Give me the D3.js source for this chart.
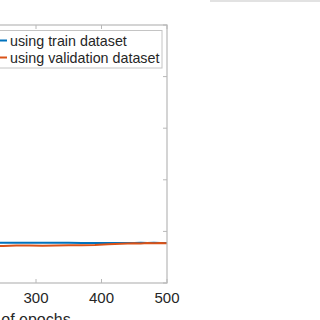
<!DOCTYPE html>
<html>
<head>
<meta charset="utf-8">
<script src="https://cdn.jsdelivr.net/npm/d3@7"></script>
<style>
  body { margin: 0; background: #fff; }
  svg { display: block; font-family: "Liberation Sans", Arial, sans-serif; }
</style>
</head>
<body>
<div id="chart"></div>
<script>
const epochs = [0, 50, 100, 150, 200, 250, 270, 290, 310, 330, 350, 370, 390, 410, 430, 450, 460, 470, 480, 490, 500];
const trainLoss = [0.157, 0.157, 0.156, 0.156, 0.156, 0.156, 0.156, 0.156, 0.156, 0.156, 0.156, 0.155, 0.155, 0.155, 0.155, 0.155, 0.156, 0.155, 0.156, 0.155, 0.155];
const validLoss = [0.142, 0.142, 0.143, 0.143, 0.143, 0.143, 0.145, 0.145, 0.144, 0.145, 0.146, 0.146, 0.147, 0.150, 0.152, 0.154, 0.153, 0.155, 0.154, 0.155, 0.154];
const xTicks = [0, 100, 200, 300, 400, 500];
const yTicks = [0, 0.2, 0.4, 0.6, 0.8, 1];
const legendLabels = ["using train dataset", "using validation dataset"];
const colors = ["#0072BD", "#D95319"];

const width = 320, height = 320;
const svg = d3.select("#chart")
    .append("svg")
    .attr("width", width)
    .attr("height", height);

// neighbouring panel edge at the top right
svg.append("rect")
    .attr("x", 210).attr("y", 0)
    .attr("width", 110).attr("height", 2)
    .attr("fill", "#e2e2e2");

const xScale = d3.scaleLinear().domain([0, 500]).range([-160.5, 167]);
const yScale = d3.scaleLinear().domain([0, 1]).range([283, 25]);

const x0 = xScale.range()[0], x1 = xScale.range()[1];
const yTop = yScale.range()[1], yBot = yScale.range()[0];

svg.append("clipPath").attr("id", "clip")
    .append("rect")
    .attr("x", x0).attr("y", yTop)
    .attr("width", x1 - x0).attr("height", yBot - yTop);

const line = d3.line()
    .x((d, i) => xScale(epochs[i]))
    .y(d => yScale(d));

[trainLoss, validLoss].forEach((series, k) => {
    svg.append("path")
        .datum(series)
        .attr("clip-path", "url(#clip)")
        .attr("fill", "none")
        .attr("stroke", colors[k])
        .attr("stroke-width", 2)
        .attr("d", line);
});

// axes box
svg.append("rect")
    .attr("x", x0).attr("y", yTop)
    .attr("width", x1 - x0).attr("height", yBot - yTop)
    .attr("fill", "none")
    .attr("stroke", "#b8b8b8")
    .attr("stroke-width", 1.2);

// ticks (MATLAB style, inside, on all sides)
const tickLen = 4;
xTicks.forEach(t => {
    const x = xScale(t);
    svg.append("line").attr("x1", x).attr("x2", x).attr("y1", yBot).attr("y2", yBot - tickLen)
        .attr("stroke", "#b8b8b8");
    svg.append("line").attr("x1", x).attr("x2", x).attr("y1", yTop).attr("y2", yTop + tickLen)
        .attr("stroke", "#b8b8b8");
    // labels left of the crop are not in the picture
    if (x < 0) return;
    svg.append("text")
        .attr("x", x).attr("y", 302.5)
        .attr("text-anchor", "middle")
        .attr("font-size", 15)
        .attr("fill", "#262626")
        .text(t);
});
yTicks.forEach(t => {
    const y = yScale(t);
    svg.append("line").attr("x1", x1).attr("x2", x1 - tickLen).attr("y1", y).attr("y2", y)
        .attr("stroke", "#b8b8b8");
});

svg.append("text")
    .attr("x", (x0 + x1) / 2 + 2)
    .attr("y", 324.5)
    .attr("text-anchor", "middle")
    .attr("font-size", 16)
    .attr("fill", "#262626")
    .text("Number of epochs");

// legend
const legend = svg.append("g");
legend.append("rect")
    .attr("x", -40).attr("y", 30.5)
    .attr("width", 202).attr("height", 37.5)
    .attr("fill", "#fff")
    .attr("stroke", "#c4c4c4");
legendLabels.forEach((label, k) => {
    const y = 40.5 + k * 17;
    legend.append("line")
        .attr("x1", -30).attr("x2", 7).attr("y1", y).attr("y2", y)
        .attr("stroke", colors[k]).attr("stroke-width", 2);
    legend.append("text")
        .attr("x", 10).attr("y", y + 5)
        .attr("font-size", 14.3)
        .attr("fill", "#262626")
        .text(label);
});
</script>
</body>
</html>
